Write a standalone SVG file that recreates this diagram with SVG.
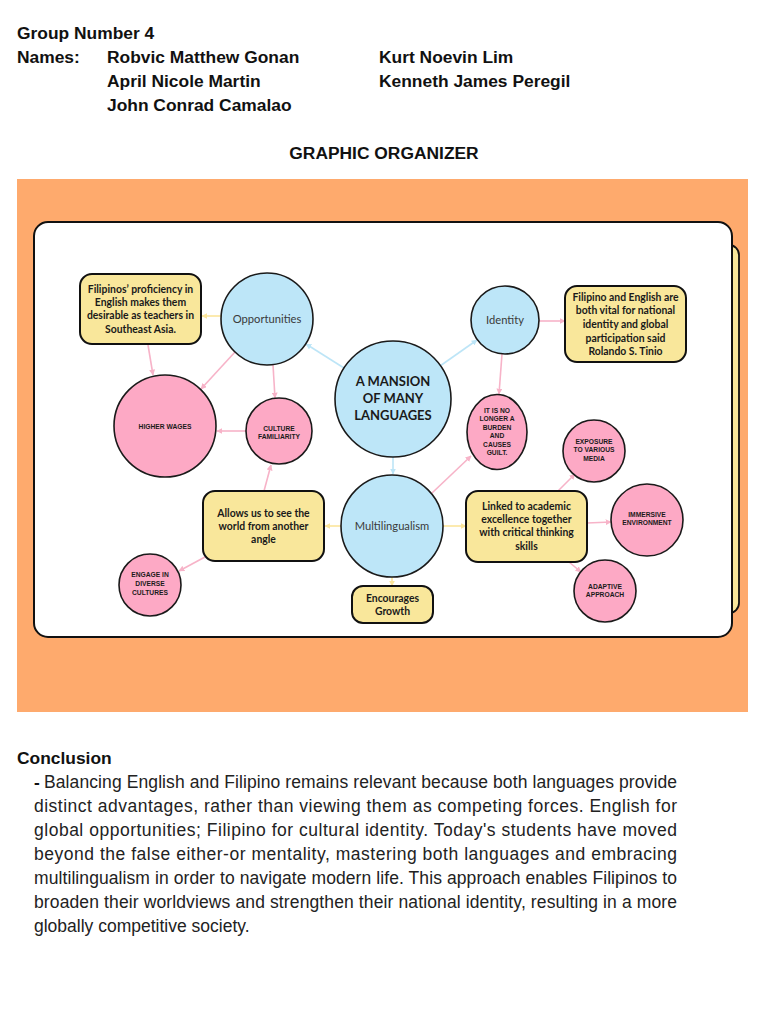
<svg xmlns="http://www.w3.org/2000/svg" width="768" height="1024" viewBox="0 0 768 1024">
<style>
.hd{font-family:"Liberation Sans",Arial,sans-serif;font-weight:bold;font-size:17.4px;fill:#111}
.body{font-family:"Liberation Sans",Arial,sans-serif;font-size:17.5px;fill:#222}
.blue{fill:#BDE6F8;stroke:#1a1a1a;stroke-width:1.6}
.pink{fill:#FDA9C5;stroke:#1a1a1a;stroke-width:1.6}
.ybox{fill:#F9E79B;stroke:#111;stroke-width:2}
.bt{font-family:Lato,"Liberation Sans",sans-serif;font-weight:bold;font-size:10.4px;fill:#1a1a1a;text-anchor:middle}
.ct{font-family:Lato,"Liberation Sans",sans-serif;font-size:11.2px;fill:#3a3a3a;text-anchor:middle}
.mt{font-family:Lato,"Liberation Sans",sans-serif;font-weight:bold;font-size:13px;fill:#1a1a1a;text-anchor:middle}
.pt{font-family:"Liberation Sans",Arial,sans-serif;font-weight:bold;font-size:6.7px;fill:#1a1a1a;text-anchor:middle}
.cb{stroke:#BDE5F7;stroke-width:1.6;fill:none;marker-end:url(#ab)}
.cp{stroke:#F7B3C8;stroke-width:1.6;fill:none;marker-end:url(#ap)}
.cy{stroke:#FBE59B;stroke-width:1.6;fill:none;marker-end:url(#ay)}
</style>
<defs>
<marker id="ab" viewBox="0 0 10 10" refX="9" refY="5" markerWidth="6" markerHeight="6" markerUnits="userSpaceOnUse" orient="auto"><path d="M0,0 L10,5 L0,10 z" fill="#BDE5F7"/></marker>
<marker id="ap" viewBox="0 0 10 10" refX="9" refY="5" markerWidth="6" markerHeight="6" markerUnits="userSpaceOnUse" orient="auto"><path d="M0,0 L10,5 L0,10 z" fill="#F7B3C8"/></marker>
<marker id="ay" viewBox="0 0 10 10" refX="9" refY="5" markerWidth="6" markerHeight="6" markerUnits="userSpaceOnUse" orient="auto"><path d="M0,0 L10,5 L0,10 z" fill="#FBE59B"/></marker>
</defs>
<rect width="768" height="1024" fill="#fff"/>

<g id="header">
<text class="hd" x="17" y="39">Group Number 4</text>
<text class="hd" x="17" y="63">Names:</text>
<text class="hd" x="107" y="63">Robvic Matthew Gonan</text>
<text class="hd" x="107" y="87">April Nicole Martin</text>
<text class="hd" x="107" y="111">John Conrad Camalao</text>
<text class="hd" x="379" y="63">Kurt Noevin Lim</text>
<text class="hd" x="379" y="87">Kenneth James Peregil</text>
<text class="hd" x="384" y="159" text-anchor="middle">GRAPHIC ORGANIZER</text>
</g>

<g id="board">
<rect x="17" y="179" width="731" height="533" fill="#FEAA6D"/>
<rect x="40" y="245" width="699" height="368" rx="10" fill="#F9E79B" stroke="#111" stroke-width="1.8"/>
<rect x="34" y="222" width="698" height="415" rx="14" fill="#fff" stroke="#111" stroke-width="2"/>
</g>

<g id="connectors">
<line class="cb" x1="344" y1="368" x2="306" y2="344"/>
<line class="cb" x1="440" y1="366" x2="477" y2="340"/>
<line class="cb" x1="393" y1="457" x2="393" y2="474"/>
<line class="cy" x1="221" y1="316" x2="202" y2="316"/>
<line class="cp" x1="148" y1="345" x2="153" y2="375"/>
<line class="cp" x1="235" y1="352" x2="201" y2="389"/>
<line class="cp" x1="273" y1="365" x2="275" y2="398"/>
<line class="cp" x1="246" y1="431" x2="217" y2="431"/>
<line class="cp" x1="264" y1="491" x2="271" y2="465"/>
<line class="cp" x1="205" y1="557" x2="179" y2="571"/>
<line class="cy" x1="341" y1="526" x2="325" y2="526"/>
<line class="cy" x1="392" y1="577" x2="392" y2="586"/>
<line class="cp" x1="432" y1="493" x2="471" y2="456"/>
<line class="cy" x1="443" y1="526" x2="466" y2="526"/>
<line class="cp" x1="502" y1="354" x2="499" y2="394"/>
<line class="cp" x1="539" y1="321" x2="565" y2="321"/>
<line class="cp" x1="558" y1="491" x2="575" y2="474"/>
<line class="cp" x1="587" y1="523" x2="611" y2="522"/>
<line class="cp" x1="569" y1="562" x2="581" y2="572"/>
</g>

<g id="main">
<circle class="blue" cx="393" cy="399" r="58"/>
<text class="mt" x="393" y="386">A MANSION</text>
<text class="mt" x="393" y="403">OF MANY</text>
<text class="mt" x="393" y="420">LANGUAGES</text>
</g>
<g id="opportunities">
<circle class="blue" cx="267" cy="319" r="46"/>
<text class="ct" x="267" y="323">Opportunities</text>
</g>
<g id="identity">
<circle class="blue" cx="505" cy="320" r="34"/>
<text class="ct" x="505" y="324">Identity</text>
</g>
<g id="multilingualism">
<circle class="blue" cx="392" cy="526" r="51"/>
<text class="ct" x="392" y="530">Multilingualism</text>
</g>
<g id="teachers">
<rect class="ybox" x="80" y="274" width="121" height="70" rx="12"/>
<text class="bt" x="140.5" y="292.5">Filipinos’ proficiency in</text>
<text class="bt" x="140.5" y="305.5">English makes them</text>
<text class="bt" x="140.5" y="319">desirable as teachers in</text>
<text class="bt" x="140.5" y="332.5">Southeast Asia.</text>
</g>
<g id="vital">
<rect class="ybox" x="565" y="286" width="121" height="76" rx="12"/>
<text class="bt" x="625.5" y="300.5">Filipino and English are</text>
<text class="bt" x="625.5" y="314">both vital for national</text>
<text class="bt" x="625.5" y="328">identity and global</text>
<text class="bt" x="625.5" y="341.5">participation said</text>
<text class="bt" x="625.5" y="354.5">Rolando S. Tinio</text>
</g>
<g id="higher-wages">
<circle class="pink" cx="165" cy="426" r="51"/>
<text class="pt" x="165" y="428.5">HIGHER WAGES</text>
</g>
<g id="culture">
<circle class="pink" cx="279" cy="431" r="33"/>
<text class="pt" x="279" y="430.5">CULTURE</text>
<text class="pt" x="279" y="438.5">FAMILIARITY</text>
</g>
<g id="burden">
<ellipse class="pink" cx="497" cy="432" rx="30" ry="37.5"/>
<text class="pt" x="497" y="412.5">IT IS NO</text>
<text class="pt" x="497" y="421">LONGER A</text>
<text class="pt" x="497" y="429.5">BURDEN</text>
<text class="pt" x="497" y="438">AND</text>
<text class="pt" x="497" y="446.5">CAUSES</text>
<text class="pt" x="497" y="455">GUILT.</text>
</g>
<g id="allows">
<rect class="ybox" x="203" y="491" width="121" height="70" rx="12"/>
<text class="bt" x="263.5" y="516.5">Allows us to see the</text>
<text class="bt" x="263.5" y="529.5">world from another</text>
<text class="bt" x="263.5" y="542.5">angle</text>
</g>
<g id="engage">
<circle class="pink" cx="150" cy="585" r="31"/>
<text class="pt" x="150" y="576.5">ENGAGE IN</text>
<text class="pt" x="150" y="585.5">DIVERSE</text>
<text class="pt" x="150" y="594.5">CULTURES</text>
</g>
<g id="encourages">
<rect class="ybox" x="352" y="586" width="81" height="37" rx="11"/>
<text class="bt" x="392.5" y="601.5">Encourages</text>
<text class="bt" x="392.5" y="614.5">Growth</text>
</g>
<g id="linked">
<rect class="ybox" x="466" y="491" width="121" height="71" rx="12"/>
<text class="bt" x="526.5" y="509.5">Linked to academic</text>
<text class="bt" x="526.5" y="522.5">excellence together</text>
<text class="bt" x="526.5" y="536">with critical thinking</text>
<text class="bt" x="526.5" y="549.5">skills</text>
</g>
<g id="exposure">
<circle class="pink" cx="594" cy="451" r="31"/>
<text class="pt" x="594" y="443.5">EXPOSURE</text>
<text class="pt" x="594" y="452">TO VARIOUS</text>
<text class="pt" x="594" y="460.5">MEDIA</text>
</g>
<g id="immersive">
<circle class="pink" cx="647" cy="520" r="36"/>
<text class="pt" x="647" y="516.5">IMMERSIVE</text>
<text class="pt" x="647" y="525">ENVIRONMENT</text>
</g>
<g id="adaptive">
<circle class="pink" cx="605" cy="591" r="31"/>
<text class="pt" x="605" y="588.5">ADAPTIVE</text>
<text class="pt" x="605" y="597">APPROACH</text>
</g>

<g id="conclusion">
<text class="hd" x="17" y="764">Conclusion</text>
<text class="hd" x="34" y="788">-</text>
<text class="body" x="44" y="788" textLength="633" lengthAdjust="spacing">Balancing English and Filipino remains relevant because both languages provide</text>
<text class="body" x="34" y="812" textLength="643" lengthAdjust="spacing">distinct advantages, rather than viewing them as competing forces. English for</text>
<text class="body" x="34" y="836" textLength="643" lengthAdjust="spacing">global opportunities; Filipino for cultural identity. Today's students have moved</text>
<text class="body" x="34" y="860" textLength="643" lengthAdjust="spacing">beyond the false either-or mentality, mastering both languages and embracing</text>
<text class="body" x="34" y="884" textLength="643" lengthAdjust="spacing">multilingualism in order to navigate modern life. This approach enables Filipinos to</text>
<text class="body" x="34" y="908" textLength="643" lengthAdjust="spacing">broaden their worldviews and strengthen their national identity, resulting in a more</text>
<text class="body" x="34" y="932">globally competitive society.</text>
</g>
</svg>
